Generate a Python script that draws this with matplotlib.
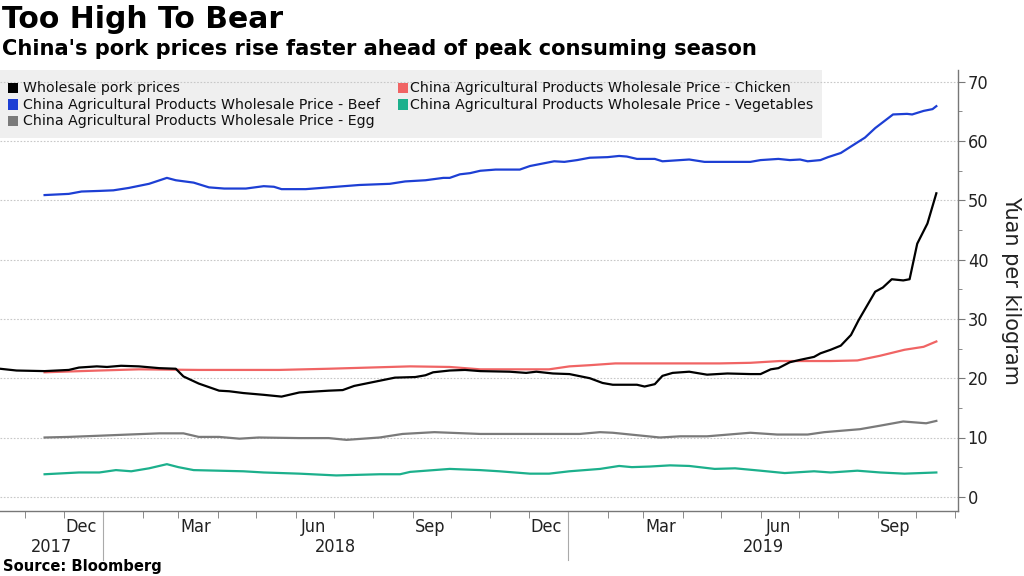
import matplotlib
matplotlib.use("Agg")
import matplotlib.pyplot as plt
import matplotlib.transforms as mtransforms
from matplotlib.patches import Rectangle
import numpy as np
import pandas as pd

# ---------------- data ----------------
pork_dates = ["2017-10-12", "2017-10-25", "2017-11-16", "2017-12-05", "2017-12-13", "2017-12-27",
              "2018-01-04", "2018-01-15", "2018-01-29", "2018-02-14", "2018-02-27", "2018-03-05",
              "2018-03-17", "2018-04-02", "2018-04-10", "2018-04-21", "2018-05-07", "2018-05-21",
              "2018-06-04", "2018-06-27", "2018-07-08", "2018-07-17", "2018-08-02", "2018-08-18",
              "2018-09-03", "2018-09-11", "2018-09-17", "2018-09-30", "2018-10-12", "2018-10-24",
              "2018-11-16", "2018-11-29", "2018-12-07", "2018-12-20", "2019-01-02", "2019-01-18",
              "2019-01-28", "2019-02-05", "2019-02-24", "2019-03-02", "2019-03-10", "2019-03-16",
              "2019-03-24", "2019-04-06", "2019-04-20", "2019-05-06", "2019-05-24", "2019-06-01",
              "2019-06-09", "2019-06-15", "2019-06-24", "2019-07-02", "2019-07-13", "2019-07-18",
              "2019-07-26", "2019-08-03", "2019-08-11", "2019-08-17", "2019-08-30", "2019-09-05",
              "2019-09-12", "2019-09-21", "2019-09-26", "2019-10-02", "2019-10-10", "2019-10-17"]
pork_vals = [21.6, 21.3, 21.2, 21.4, 21.8, 22.0,
             21.9, 22.1, 22.0, 21.7, 21.6, 20.3,
             19.1, 17.9, 17.8, 17.5, 17.2, 16.9,
             17.6, 17.9, 18.0, 18.7, 19.4, 20.1,
             20.2, 20.5, 21.0, 21.3, 21.4, 21.2,
             21.1, 20.9, 21.1, 20.8, 20.7, 20.0,
             19.2, 18.9, 18.9, 18.6, 19.0, 20.4,
             20.9, 21.1, 20.6, 20.8, 20.7, 20.7,
             21.5, 21.7, 22.7, 23.1, 23.6, 24.2,
             24.8, 25.5, 27.3, 29.8, 34.6, 35.3,
             36.7, 36.5, 36.7, 42.7, 46.1, 51.2]

beef_dates = ["2017-11-16", "2017-12-05", "2017-12-15", "2017-12-29", "2018-01-09", "2018-01-21",
              "2018-02-06", "2018-02-20", "2018-02-27", "2018-03-13", "2018-03-25", "2018-04-06",
              "2018-04-23", "2018-05-07", "2018-05-15", "2018-05-21", "2018-06-09", "2018-06-27",
              "2018-07-21", "2018-08-14", "2018-08-26", "2018-09-11", "2018-09-25", "2018-09-30",
              "2018-10-08", "2018-10-16", "2018-10-24", "2018-11-05", "2018-11-24", "2018-12-02",
              "2018-12-21", "2018-12-29", "2019-01-08", "2019-01-18", "2019-02-01", "2019-02-10",
              "2019-02-16", "2019-02-24", "2019-03-10", "2019-03-16", "2019-04-06", "2019-04-18",
              "2019-05-24", "2019-06-01", "2019-06-15", "2019-06-24", "2019-07-02", "2019-07-08",
              "2019-07-18", "2019-07-24", "2019-08-03", "2019-08-11", "2019-08-22", "2019-08-30",
              "2019-09-13", "2019-09-24", "2019-09-28", "2019-10-07", "2019-10-14", "2019-10-17"]
beef_vals = [50.9, 51.1, 51.5, 51.6, 51.7, 52.1,
             52.8, 53.8, 53.4, 53.0, 52.2, 52.0,
             52.0, 52.4, 52.3, 51.9, 51.9, 52.2,
             52.6, 52.8, 53.2, 53.4, 53.8, 53.8,
             54.4, 54.6, 55.0, 55.2, 55.2, 55.8,
             56.6, 56.5, 56.8, 57.2, 57.3, 57.5,
             57.4, 57.0, 57.0, 56.6, 56.9, 56.5,
             56.5, 56.8, 57.0, 56.8, 56.9, 56.6,
             56.8, 57.3, 58.0, 59.1, 60.6, 62.2,
             64.5, 64.6, 64.5, 65.1, 65.4, 65.9]

chicken_dates = ["2017-11-16", "2017-12-29", "2018-01-29", "2018-03-17", "2018-05-19", "2018-06-27",
                 "2018-08-30", "2018-09-30", "2018-10-24", "2018-12-17", "2019-01-02", "2019-01-18",
                 "2019-02-07", "2019-02-26", "2019-04-30", "2019-05-24", "2019-06-16", "2019-07-10",
                 "2019-07-26", "2019-08-16", "2019-09-03", "2019-09-22", "2019-10-07", "2019-10-17"]
chicken_vals = [21.0, 21.3, 21.5, 21.4, 21.4, 21.6,
                22.0, 21.9, 21.5, 21.5, 22.0, 22.2,
                22.5, 22.5, 22.5, 22.6, 22.9, 22.9,
                22.9, 23.0, 23.8, 24.8, 25.3, 26.2]

egg_dates = ["2017-11-16", "2017-12-05", "2017-12-29", "2018-01-21", "2018-02-14", "2018-03-05",
             "2018-03-17", "2018-04-02", "2018-04-18", "2018-05-03", "2018-06-04", "2018-06-27",
             "2018-07-11", "2018-08-06", "2018-08-24", "2018-09-18", "2018-10-12", "2018-10-24",
             "2019-01-10", "2019-01-26", "2019-02-05", "2019-03-14", "2019-03-30", "2019-04-20",
             "2019-05-24", "2019-06-14", "2019-07-08", "2019-07-21", "2019-08-18", "2019-09-03",
             "2019-09-21", "2019-10-09", "2019-10-17"]
egg_vals = [10.0, 10.1, 10.3, 10.5, 10.7, 10.7,
            10.1, 10.1, 9.8, 10.0, 9.9, 9.9,
            9.6, 10.0, 10.6, 10.9, 10.7, 10.6,
            10.6, 10.9, 10.8, 10.0, 10.2, 10.2,
            10.8, 10.5, 10.5, 10.9, 11.4, 12.0,
            12.7, 12.4, 12.8]

veg_dates = ["2017-11-16", "2017-12-13", "2017-12-29", "2018-01-11", "2018-01-23", "2018-02-06",
             "2018-02-20", "2018-03-01", "2018-03-13", "2018-04-21", "2018-05-07", "2018-06-04",
             "2018-07-03", "2018-08-06", "2018-08-22", "2018-08-30", "2018-09-30", "2018-10-24",
             "2018-11-08", "2018-12-02", "2018-12-17", "2019-01-02", "2019-01-26", "2019-02-10",
             "2019-02-20", "2019-03-06", "2019-03-22", "2019-04-06", "2019-04-26", "2019-05-12",
             "2019-06-01", "2019-06-20", "2019-07-13", "2019-07-26", "2019-08-16", "2019-09-03",
             "2019-09-22", "2019-10-17"]
veg_vals = [3.8, 4.1, 4.1, 4.5, 4.3, 4.8,
            5.5, 5.0, 4.5, 4.3, 4.1, 3.9,
            3.6, 3.8, 3.8, 4.2, 4.7, 4.5,
            4.3, 3.9, 3.9, 4.3, 4.7, 5.2,
            5.0, 5.1, 5.3, 5.2, 4.7, 4.8,
            4.4, 4.0, 4.3, 4.1, 4.4, 4.1,
            3.9, 4.1]

series_labels = ["Wholesale pork prices",
                 "China Agricultural Products Wholesale Price - Beef",
                 "China Agricultural Products Wholesale Price - Egg",
                 "China Agricultural Products Wholesale Price - Chicken",
                 "China Agricultural Products Wholesale Price - Vegetables"]
series_colors = ["#000000", "#1d3fd4", "#7a7a7a", "#f06464", "#1cb08c"]

y_ticks = [0, 10, 20, 30, 40, 50, 60, 70]
month_labels = {12: "Dec", 3: "Mar", 6: "Jun", 9: "Sep"}
years = [2017, 2018, 2019]

title = "Too High To Bear"
subtitle = "China's pork prices rise faster ahead of peak consuming season"
source = "Source: Bloomberg"
ylabel = "Yuan per kilogram"

# ---------------- figure ----------------
plt.rcParams["font.family"] = ["DejaVu Sans"]
tick_font = dict(family="DejaVu Sans", stretch="condensed", size=13)

fig = plt.figure(figsize=(10.24, 5.76), dpi=100)
ax = fig.add_axes([0.0, 1 - 511 / 576, 958 / 1024, 441 / 576])
ax.patch.set_alpha(0)

x_min = pd.Timestamp("2017-10-12")
x_max = pd.Timestamp("2019-11-03")
ax.set_xlim(x_min, x_max)
ax.set_ylim(-2.4, 72.0)

all_data = [(pork_dates, pork_vals), (beef_dates, beef_vals), (egg_dates, egg_vals),
            (chicken_dates, chicken_vals), (veg_dates, veg_vals)]
draw_order = [1, 2, 4, 3, 0]
for i in draw_order:
    d, v = all_data[i]
    ax.plot(pd.to_datetime(d), v, color=series_colors[i], lw=1.6, zorder=3 + (i == 0),
            solid_joinstyle="round")

# grid
for yv in y_ticks:
    ax.axhline(yv, color="#c8c8c8", lw=0.8, ls=(0, (1.5, 1.5)), zorder=1.5)

# spines
for s in ["left", "top"]:
    ax.spines[s].set_visible(False)
for s in ["right", "bottom"]:
    ax.spines[s].set_color("#777777")
    ax.spines[s].set_linewidth(1.0)

# y axis on right
ax.yaxis.tick_right()
ax.set_yticks(y_ticks)
ax.set_yticklabels([str(t) for t in y_ticks], fontdict=tick_font, color="#222222")
ax.set_yticks(np.arange(5, 70, 10), minor=True)
ax.tick_params(axis="y", which="major", length=5, color="#777777", pad=2)
ax.tick_params(axis="y", which="minor", length=3, color="#777777")

# x axis: month ticks (minor) and mid-month labels (major)
month_starts = pd.date_range("2017-11-01", "2019-11-01", freq="MS")
ax.set_xticks(month_starts, minor=True)
label_dates = [m + pd.Timedelta(days=14) for m in month_starts if m.month in month_labels]
ax.set_xticks(label_dates)
ax.set_xticklabels([month_labels[m.month] for m in label_dates], fontdict=tick_font,
                   color="#222222")
ax.tick_params(axis="x", which="major", length=0, pad=5)
ax.tick_params(axis="x", which="minor", length=5, color="#777777")

# year labels and separators
trans = mtransforms.blended_transform_factory(ax.transData, ax.transAxes)
for yr in years:
    start = max(pd.Timestamp(f"{yr}-01-01"), x_min)
    end = min(pd.Timestamp(f"{yr + 1}-01-01"), x_max)
    mid = start + (end - start) / 2
    ax.text(mid, -0.082, str(yr), transform=trans, ha="center", va="center",
            fontdict=tick_font, color="#222222")
    sep = pd.Timestamp(f"{yr}-01-01")
    if x_min < sep < x_max:
        ax.plot([sep, sep], [0, -0.11], transform=trans, color="#aaaaaa", lw=0.8,
                clip_on=False)

# legend (manual box, drawn beneath the axes so the grid shows through)
fig.patches.append(Rectangle((0, 1 - 138 / 576), 822 / 1024, 68 / 576,
                             transform=fig.transFigure, facecolor="#efefef",
                             edgecolor="none", zorder=-1))
leg_cols = [(8, 23), (8, 23), (8, 23), (398, 410), (398, 410)]
leg_rows = [88, 104.5, 121, 88, 104.5]
for i, lab in enumerate(series_labels):
    mx, tx = leg_cols[i]
    yy = leg_rows[i]
    fig.patches.append(Rectangle((mx / 1024, 1 - (yy + 5) / 576), 10 / 1024, 10 / 576,
                                 transform=fig.transFigure, facecolor=series_colors[i],
                                 edgecolor="none", zorder=5))
    fig.text(tx / 1024, 1 - yy / 576, lab, ha="left", va="center", fontsize=10.2,
             color="#111111")

# titles
fig.text(0.002, 1 - 20 / 576, title, ha="left", va="center", fontsize=21.5,
         fontweight="bold", color="#000000")
fig.text(0.002, 1 - 49 / 576, subtitle, ha="left", va="center", fontsize=15.15,
         fontweight="bold", color="#000000")
fig.text(0.003, 1 - 566 / 576, source, ha="left", va="center", fontsize=10.6,
         fontweight="bold", color="#000000")
fig.text(1011 / 1024, 1 - 290 / 576, ylabel, ha="center", va="center", rotation=270,
         fontsize=15, color="#222222")

fig.savefig("out.png", dpi=100)
